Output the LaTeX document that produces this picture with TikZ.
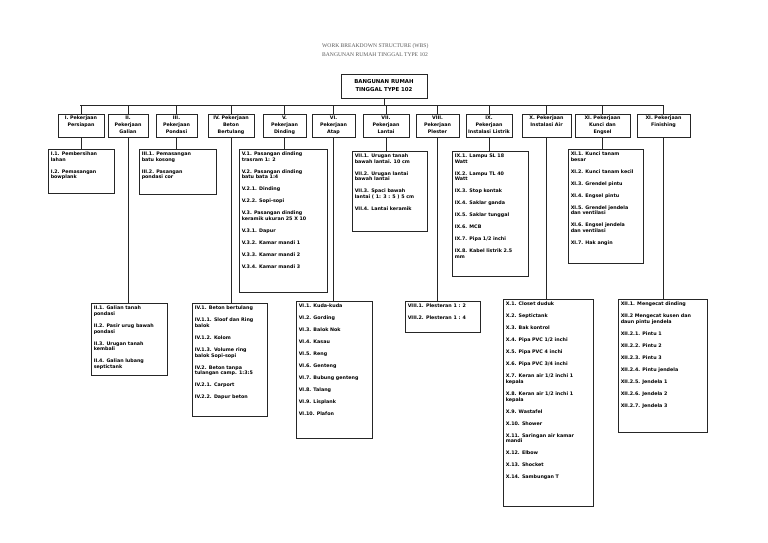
\documentclass[tikz,border=0pt]{standalone}
\usepackage{fontspec}
\setmainfont{DejaVu Sans}
\newfontfamily\titlefont{Liberation Serif}
\usetikzlibrary{fit}
\tikzset{
  bx/.style={draw=black!85, line width=0.9pt, inner sep=0pt},
  ln/.style={draw=black!85, line width=0.8pt},
  lonetxt/.style={anchor=north, inner sep=2pt, align=center, font=\bfseries\fontsize{4.8}{7.2}\selectfont},
  subtxt/.style={anchor=north west, inner xsep=3pt, inner ysep=3pt, align=left, font=\bfseries\fontsize{4.8}{5.8}\selectfont}
}
\newcommand\lone[4]{%
  \node[bx, fit={(#2,114)(#3,137)}] (#1) {};
  \begin{scope}\clip (#1.south west) rectangle (#1.north east);
  \node[lonetxt] (#1t) at (#1.north) {#4};
  \end{scope}}
\newcommand\subbox[6]{%
  \node[bx, fit={(#2,#3)(#4,#5)}] (#1) {};
  \begin{scope}\clip (#1.south west) rectangle (#1.north east);
  \node[subtxt] (#1t) at (#1.north west) {#6};
  \end{scope}}
\def\s{\\[6.2pt]}
\begin{document}
\begin{tikzpicture}[x=1pt,y=-1pt]
\useasboundingbox[fill=white] (0,0) rectangle (768,543);
\node[anchor=north west, inner sep=0, align=left, text=black!65, font=\titlefont\fontsize{5.6}{9.5}\selectfont] (title) at (322,43) {WORK BREAKDOWN STRUCTURE (WBS)\\BANGUNAN RUMAH TINGGAL TYPE 102};
\node[bx, fit={(341,74)(427,98)}] (root) {};
\node[align=center, font=\bfseries\fontsize{5.4}{8}\selectfont] (roott) at (root.center) {BANGUNAN RUMAH\\TINGGAL TYPE 102};
\coordinate (busL) at (80,105);
\coordinate (busR) at (663,105);
\draw[ln] (busL) -- (busR);
\draw[ln] (root.south) -- (root.south |- busL);

\lone{a}{58}{104}{I. Pekerjaan\\Persiapan}
\lone{b}{108}{148}{II.\\Pekerjaan\\Galian}
\lone{c}{156}{197}{III.\\Pekerjaan\\Pondasi}
\lone{d}{208}{254}{IV. Pekerjaan\\Beton\\Bertulang}
\lone{e}{263}{306}{V.\\Pekerjaan\\Dinding}
\lone{f}{312}{355}{VI.\\Pekerjaan\\Atap}
\lone{g}{363}{409}{VII.\\Pekerjaan\\Lantai}
\lone{h}{416}{459}{VIII.\\Pekerjaan\\Plester}
\lone{i}{466}{512}{IX.\\Pekerjaan\\Instalasi Listrik}
\lone{j}{522}{571}{X. Pekerjaan\\Instalasi Air}
\lone{k}{575}{630}{XI. Pekerjaan\\Kunci dan\\Engsel}
\lone{l}{637}{690}{XI. Pekerjaan\\Finishing}
\foreach \n in {a,b,c,d,e,f,g,h,i,j,k,l} {\draw[ln] (\n.north) -- (\n.north |- busL);}

\subbox{sa}{48}{149}{114}{193}{I.1. Pembersihan\\lahan\s I.2. Pemasangan\\bowplank}
\subbox{sc}{139}{149}{216}{194}{III.1. Pemasangan\\batu kosong\s III.2. Pasangan\\pondasi cor}
\subbox{se}{239}{149}{327}{292}{V.1. Pasangan dinding\\trasram 1: 2\s V.2. Pasangan dinding\\batu bata 1:4\s V.2.1. Dinding\s V.2.2. Sopi-sopi\s V.3. Pasangan dinding\\keramik ukuran 25 X 10\s V.3.1. Dapur\s V.3.2. Kamar mandi 1\s V.3.3. Kamar mandi 2\s V.3.4. Kamar mandi 3}
\subbox{sg}{352}{151}{427}{231}{VII.1. Urugan tanah\\bawah lantai. 10 cm\s VII.2. Urugan lantai\\bawah lantai\s VII.3. Spaci bawah\\lantai ( 1: 3 : 5 ) 5 cm\s VII.4. Lantai keramik}
\subbox{si}{452}{151}{528}{276}{IX.1. Lampu SL 18\\Watt\s IX.2. Lampu TL 40\\Watt\s IX.3. Stop kontak\s IX.4. Saklar ganda\s IX.5. Saklar tunggal\s IX.6. MCB\s IX.7. Pipa 1/2 inchi\s IX.8. Kabel listrik 2.5\\mm}
\subbox{sk}{568}{149}{643}{263}{XI.1. Kunci tanam\\besar\s XI.2. Kunci tanam kecil\s XI.3. Grendel pintu\s XI.4. Engsel pintu\s XI.5. Grendel jendela\\dan ventilasi\s XI.6. Engsel jendela\\dan ventilasi\s XI.7. Hak angin}

\subbox{sb}{91}{303}{167}{375}{II.1. Galian tanah\\pondasi\s II.2. Pasir urug bawah\\pondasi\s II.3. Urugan tanah\\kembali\s II.4. Galian lubang\\septictank}
\subbox{sd}{192}{303}{267}{416}{IV.1. Beton bertulang\s IV.1.1. Sloof dan Ring\\balok\s IV.1.2. Kolom\s IV.1.3. Volume ring\\balok Sopi-sopi\s IV.2. Beton tanpa\\tulangan camp. 1:3:5\s IV.2.1. Carport\s IV.2.2. Dapur beton}
\subbox{sf}{296}{301}{372}{438}{VI.1. Kuda-kuda\s VI.2. Gording\s VI.3. Balok Nok\s VI.4. Kasau\s VI.5. Reng\s VI.6. Genteng\s VI.7. Bubung genteng\s VI.8. Talang\s VI.9. Lisplank\s VI.10. Plafon}
\subbox{sh}{405}{301}{480}{332}{VIII.1. Plesteran 1 : 2\s VIII.2. Plesteran 1 : 4}
\subbox{sj}{503}{299}{593}{506}{X.1. Closet duduk\s X.2. Septictank\s X.3. Bak kontrol\s X.4. Pipa PVC 1/2 inchi\s X.5. Pipa PVC 4 inchi\s X.6. Pipa PVC 3/4 inchi\s X.7. Keran air 1/2 inchi 1\\kepala\s X.8. Keran air 1/2 inchi 1\\kepala\s X.9. Wastafel\s X.10. Shower\s X.11. Saringan air kamar\\mandi\s X.12. Elbow\s X.13. Shocket\s X.14. Sambungan T}
\subbox{sl}{618}{299}{707}{432}{XII.1. Mengecat dinding\s XII.2 Mengecat kusen dan\\daun pintu jendela\s XII.2.1. Pintu 1\s XII.2.2. Pintu 2\s XII.2.3. Pintu 3\s XII.2.4. Pintu jendela\s XII.2.5. Jendela 1\s XII.2.6. Jendela 2\s XII.2.7. Jendela 3}
\foreach \p/\c in {a/sa,b/sb,c/sc,d/sd,e/se,f/sf,g/sg,h/sh,i/si,j/sj,k/sk,l/sl} {\draw[ln] (\p.south) -- (\p.south |- \c.north);}
\end{tikzpicture}
\end{document}
